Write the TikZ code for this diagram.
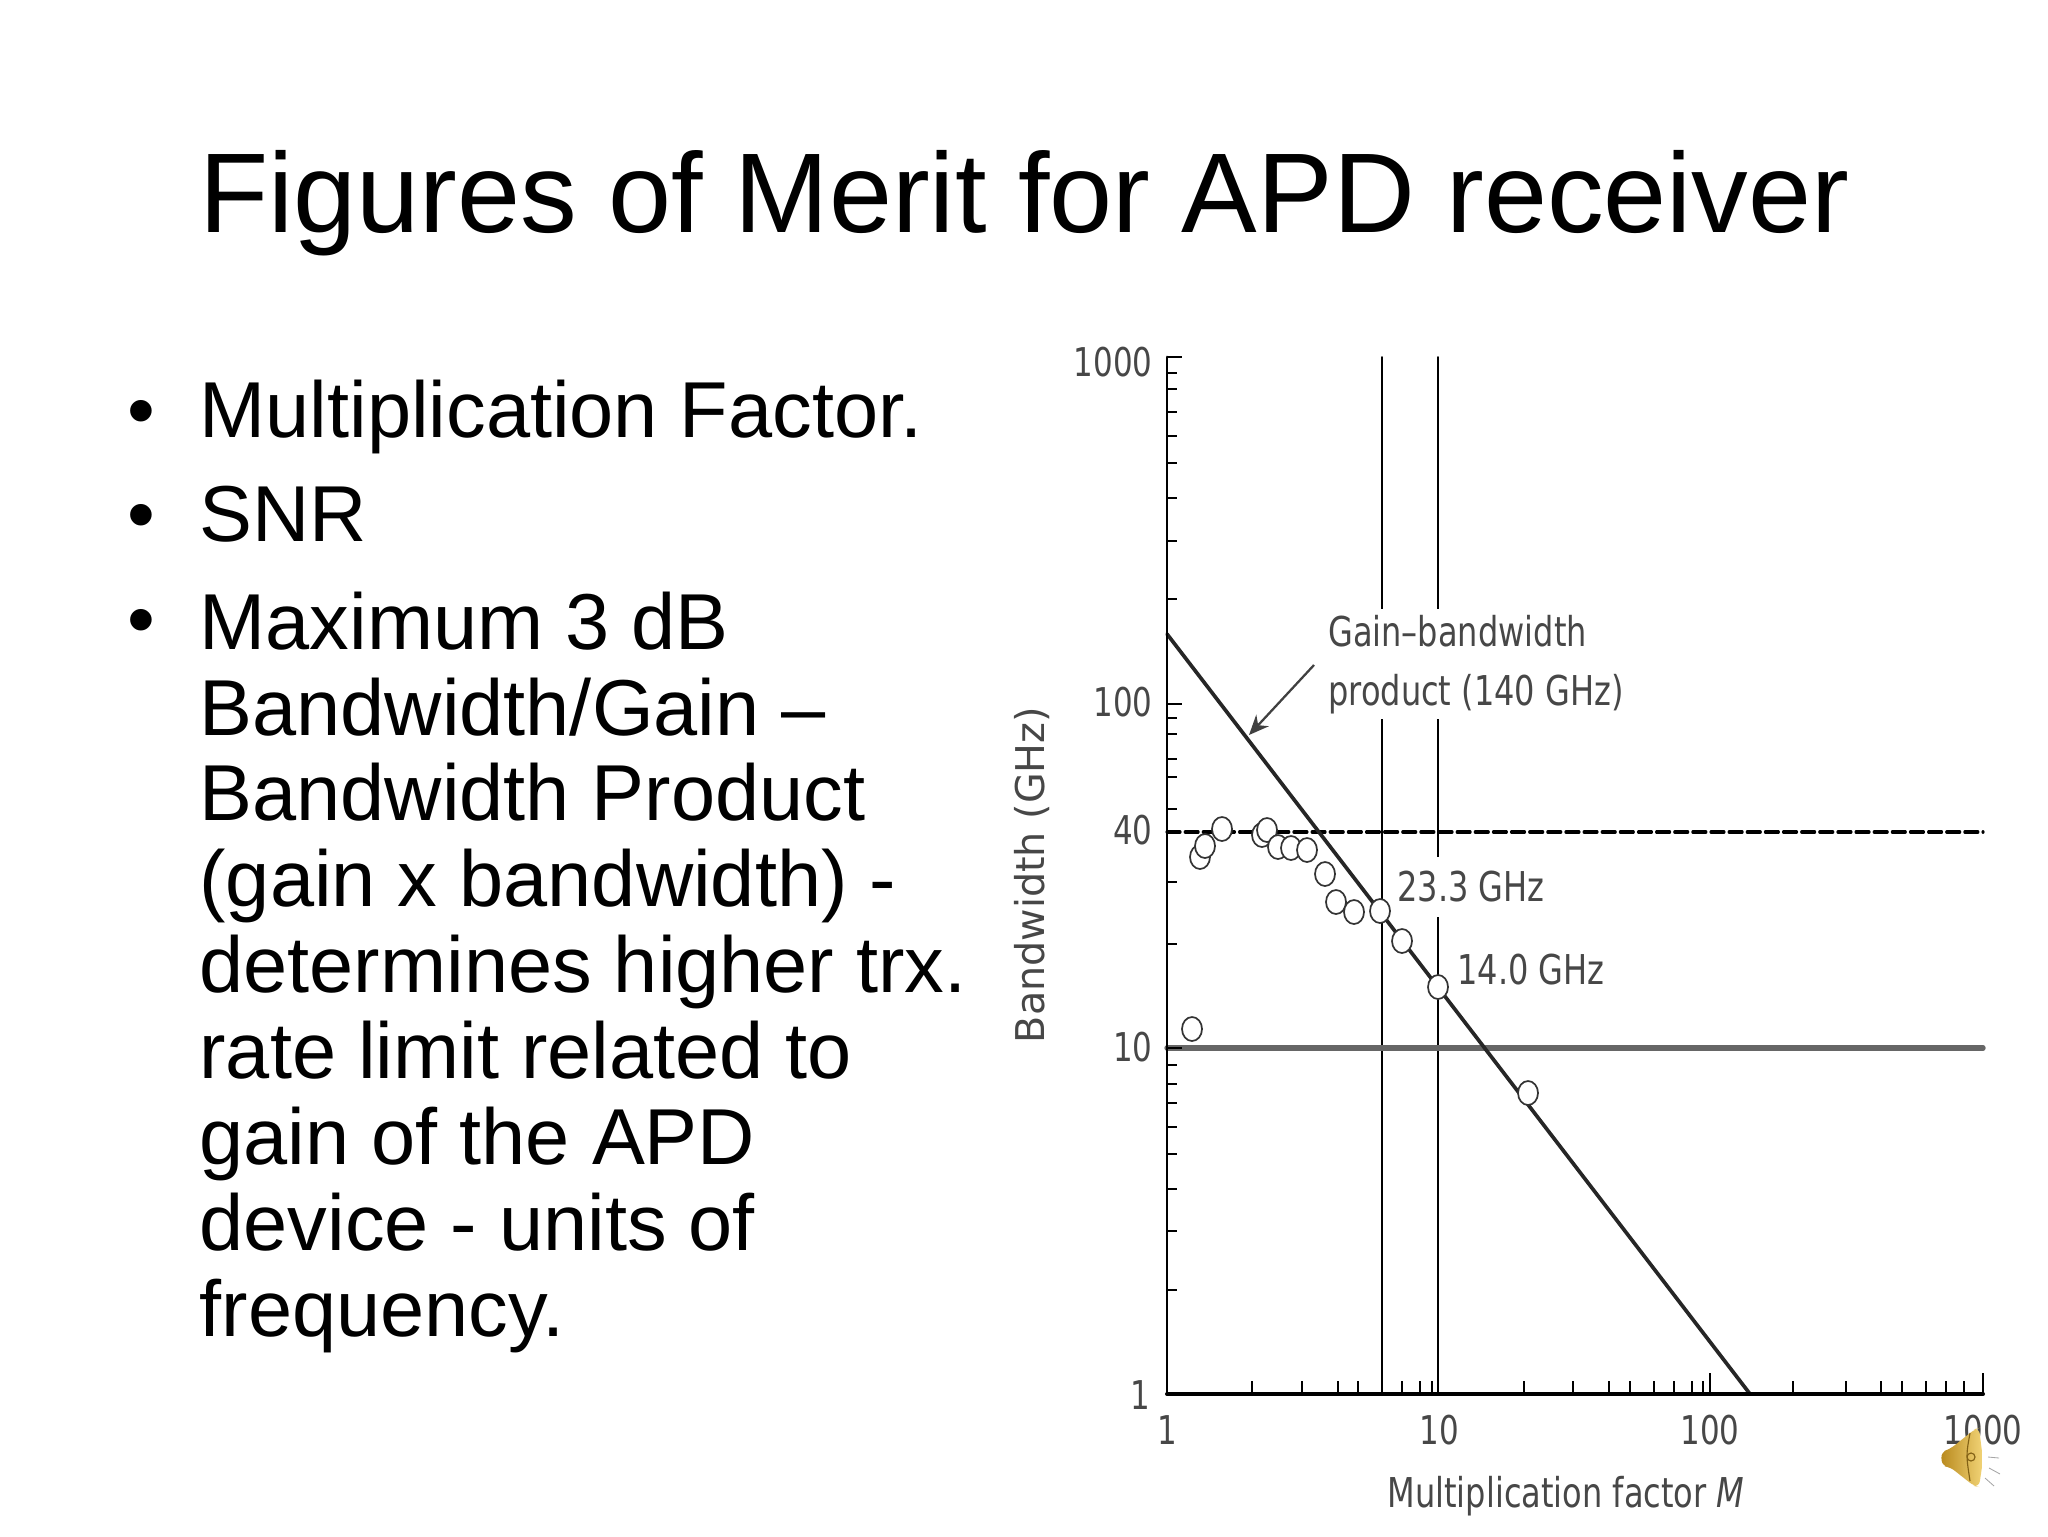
\documentclass[tikz,border=0pt]{standalone}
\usepackage{fontspec}
\RequirePackage{tikz}
\RequirePackage{tkz-euclide}
\usetikzlibrary{calc}
\usetikzlibrary{arrows.meta}
\setmainfont{Liberation Sans}
\newfontfamily\plotfont[FakeStretch=0.78]{DejaVu Sans}
\newfontfamily\plotwide{DejaVu Sans}
\definecolor{plotgray}{gray}{0.28}
\definecolor{horndark}{HTML}{B98A1E}
\definecolor{hornlight}{HTML}{F2D477}
\tikzset{
    slidetext/.style={anchor=base west,inner sep=0pt,font=\fontsize{28}{30.3}\selectfont,align=left},
    numlabel/.style={inner sep=0pt,text=plotgray,font=\plotfont\fontsize{14}{16}\selectfont},
    plotlabel/.style={fill=white,inner sep=2pt,text=plotgray,font=\plotfont\fontsize{14.5}{20.7}\selectfont,align=left},
    datapoint/.style={draw=black!80,fill=white,line width=0.6pt},
    minortick/.style={line width=1pt,black},
    axisline/.style={line width=1pt,black},
    markerline/.style={line width=0.6pt,black}
}
\begin{document}
\begin{tikzpicture}[x=0.01240234cm,y=-0.01240234cm]
                \useasboundingbox (0,0) rectangle (2048,1536);

                \tkzDefPoint(1167,357){O1}
                \tkzDefPoint(1167,1394){O}
                \tkzDefPoint(1983,1394){X}
                \tkzDefPoint(1382,357){M1}
                \tkzDefPoint(1382,1394){M2}
                \tkzDefPoint(1438,357){N1}
                \tkzDefPoint(1438,1394){N2}
                \tkzDefPoint(1167,832){D1}
                \tkzDefPoint(1983,832){D2}
                \tkzDefPoint(1167,1048){T1}
                \tkzDefPoint(1983,1048){T2}
                \tkzDefPoint(1167,634){G1}
                \tkzDefPoint(1750,1394){G2}
                \tkzDefPoint(1314,665){A1}
                \tkzDefPoint(1249,735){A2}

                \tkzDrawSegment[markerline](M1,M2)
                \tkzDrawSegment[markerline](N1,N2)
                \tkzDrawSegment[line width=1.1pt,dash pattern=on 4.6pt off 1.8pt,black](D1,D2)
                \tkzDrawSegment[line width=1.9pt,black!60](T1,T2)
                \tkzDrawSegment[line width=1.3pt,black!85](G1,G2)

                \foreach \y in {373,389,412,436,463,498,541,599,718,734,759,777,809,832,882,944,1065,1084,1103,1127,1154,1189,1231,1290}
                    \draw[minortick] (1167,\y) -- ++(10,0);
                \foreach \y in {357,704,1048}
                    \draw[minortick] (1167,\y) -- ++(15,0);
                \foreach \x in {1252,1302,1338,1358,1402,1420,1432,1524,1573,1609,1630,1654,1674,1692,1703,1793,1846,1881,1902,1926,1946,1964}
                    \draw[markerline] (\x,1394) -- ++(0,-13);
                \foreach \x in {1710,1983}
                    \draw[markerline] (\x,1394) -- ++(0,-21);

                \tkzDrawSegment[axisline](O1,O)
                \tkzDrawSegment[line width=1.4pt,black](O,X)

                \node[plotlabel,anchor=base west] (gainlabel) at (1322,705) {Gain–bandwidth\\product (140 GHz)};
                \node[plotlabel,anchor=west,minimum height=21pt] (labelA) at (1391,887) {23.3 GHz};
                \node[plotlabel,anchor=west] (labelB) at (1451,970) {14.0 GHz};
                \draw[line width=0.8pt,black!75,-{Stealth[length=7pt,width=6pt]}] (A1) -- (A2);

                \foreach \px/\py in {1200/857,1205/846,1222/829,1262/835,1267/830,1278/847,1291/848,1307/850,1325/874,1336/902,1354/912,1380/911,1402/941,1438/987,1192/1029,1528/1093}
                    \draw[datapoint] (\px,\py) circle[x radius=10,y radius=12];

                \node[numlabel,anchor=east] (ylabA) at (1153,362) {1000};
                \node[numlabel,anchor=east] (ylabB) at (1153,702) {100};
                \node[numlabel,anchor=east] (ylabC) at (1153,830) {40};
                \node[numlabel,anchor=east] (ylabD) at (1153,1047) {10};
                \node[numlabel,anchor=east] (ylabE) at (1151,1395) {1};
                \node[numlabel] (xlabA) at (1167,1430) {1};
                \node[numlabel] (xlabB) at (1439,1430) {10};
                \node[numlabel] (xlabC) at (1710,1430) {100};
                \node[numlabel] (xlabD) at (1983,1430) {1000};
                \node[numlabel,font=\plotfont\fontsize{14.5}{16}\selectfont] (xtitle) at (1566,1496) {Multiplication factor \textit{M}};
                \node[numlabel,rotate=90,font=\plotwide\fontsize{14}{16}\selectfont] (ytitle) at (1032,875) {Bandwidth (GHz)};

                \node[anchor=base west,inner sep=0pt,font=\fontsize{40}{48}\selectfont] (title) at (199,232) {Figures of Merit for APD receiver};
                \node[slidetext] (bulletA) at (127,437) {•};
                \node[slidetext] (bulletB) at (127,541) {•};
                \node[slidetext] (bulletC) at (127,646) {•};
                \node[slidetext] (itemA) at (199,437) {Multiplication Factor.};
                \node[slidetext] (itemB) at (199,541) {SNR};
                \node[slidetext] (itemC) at (199,1336) {Maximum 3 dB\\Bandwidth/Gain –\\Bandwidth Product\\(gain x bandwidth) -\\determines higher trx.\\rate limit related to\\gain of the APD\\device - units of\\frequency.};

                \draw[draw=none,left color=horndark,right color=hornlight,rounded corners=2pt] (1941,1452) -- (1950,1449) -- (1975,1429) -- (1979,1428) -- (1983,1460) -- (1979,1487) -- (1974,1486) -- (1950,1467) -- (1942,1466) -- cycle;
                \draw[horndark!70!black,line width=0.4pt] (1970,1433) .. controls (1966,1455) .. (1970,1481);
                \draw[horndark!70!black,line width=0.4pt] (1971,1457) circle[radius=4];
                \draw[black!35,line width=0.3pt] (1988,1457) -- (1999,1458);
                \draw[black!35,line width=0.3pt] (1989,1468) -- (2000,1474);
                \draw[black!35,line width=0.3pt] (1985,1478) -- (1994,1486);
\end{tikzpicture}
\end{document}
